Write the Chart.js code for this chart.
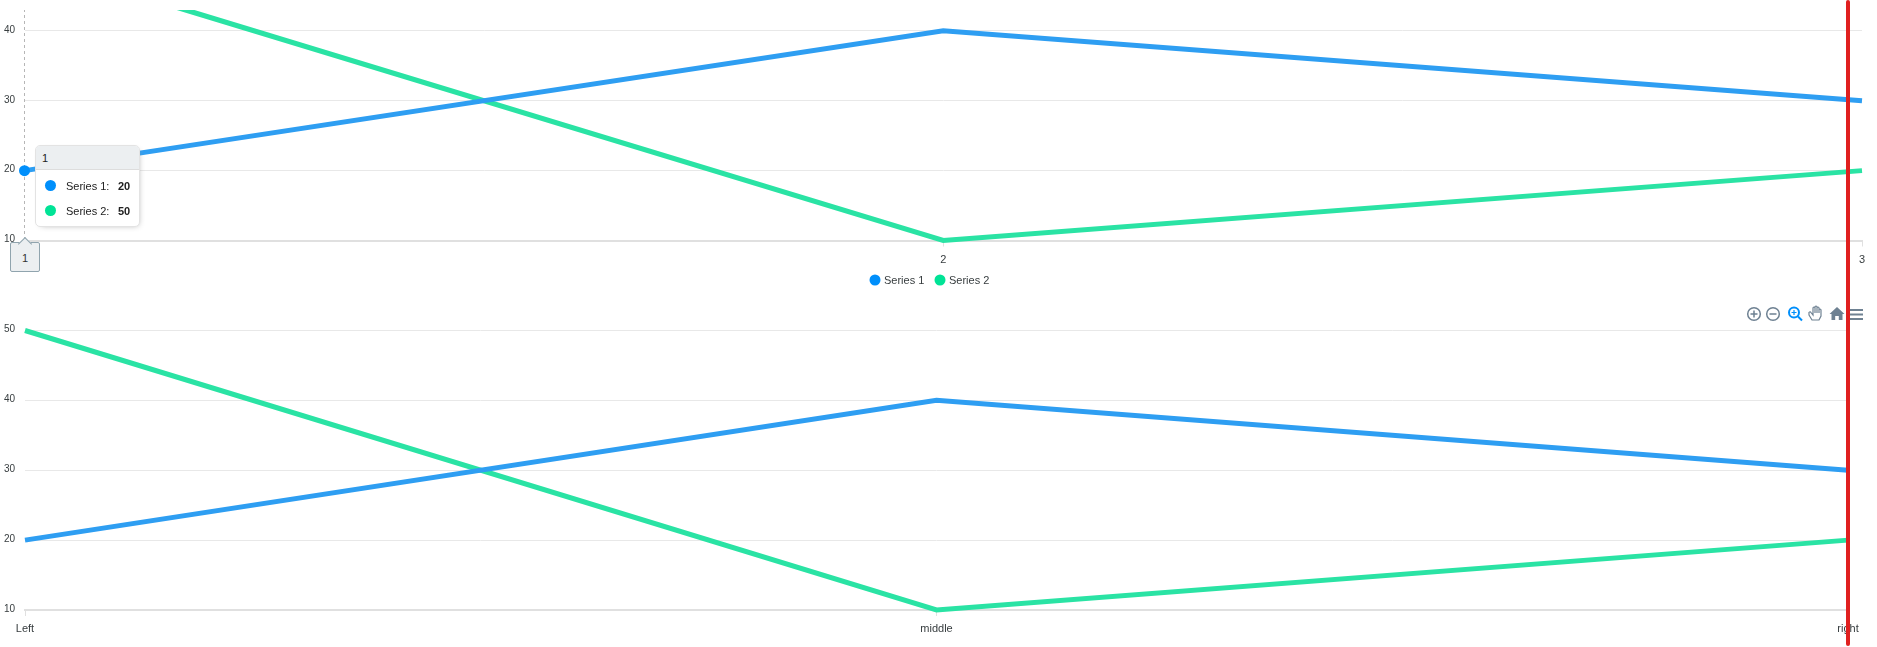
<!DOCTYPE html>
<html><head><meta charset="utf-8">
<script src="https://cdn.jsdelivr.net/npm/chart.js@4"></script>
<style>
html,body{margin:0;padding:0;background:#fff;overflow:hidden;width:1877px;height:647px;font-family:"Liberation Sans",Arial,sans-serif;color:#373d3f}
#clipTop{position:absolute;left:0;top:10px;width:1877px;height:290px;overflow:hidden}
#wrapTop{position:absolute;left:0;top:-110px;width:1877px;height:410px}
#wrapBottom{position:absolute;left:0;top:300px;width:1877px;height:347px}
#tip{position:absolute;left:35px;top:145px;width:105px;height:82px;background:#fff;border:1px solid #e3e3e3;border-radius:5px;box-shadow:2px 2px 6px -4px #999;font-size:11px;color:#222;box-sizing:border-box;overflow:hidden}
#tipT{background:#eceff1;border-bottom:1px solid #ddd;height:23px;line-height:24px;padding-left:6px}
.row{position:absolute;left:9px;height:14px;line-height:14px;white-space:nowrap}
.dot{position:absolute;left:0;top:1px;width:11px;height:11px;border-radius:50%}
.row span.l{position:absolute;left:21px}
.row b{position:absolute;left:73px}
#xtip{position:absolute;left:10px;top:242px;width:30px;height:30px;box-sizing:border-box;background:#eceff1;border:1px solid #90a4ae;border-radius:2px;font-size:11px;text-align:center;line-height:30px;color:#333}
#xarrow{position:absolute;left:20px;top:239px;width:9px;height:9px;background:#eceff1;border-left:1px solid #90a4ae;border-top:1px solid #90a4ae;transform:rotate(45deg)}
#red{position:absolute;left:1846px;top:0;width:4px;height:646px;background:#e0201f;border-radius:2px}
#tools{position:absolute;left:0;top:0}
</style></head><body>
<div id="clipTop"><div id="wrapTop"><canvas id="c1"></canvas></div></div>
<div id="wrapBottom"><canvas id="c2"></canvas></div>
<div id="tip"><div id="tipT"></div><div class="row" id="r0" style="top:33px"></div><div class="row" id="r1" style="top:58px"></div></div>
<div id="xtip"></div><div id="xarrow"></div>
<svg id="tools" width="1877" height="647" style="pointer-events:none" fill="none" stroke="#6e8192" stroke-width="1.5">
<g><circle cx="1754" cy="314" r="6.3"/><path d="M1750.5 314h7M1754 310.5v7"/></g>
<g><circle cx="1773" cy="314" r="6.3"/><path d="M1769.5 314h7"/></g>
<g stroke="#008ffb" stroke-width="2"><circle cx="1794" cy="312.5" r="5"/><path d="M1798 316.5l4 4"/><path d="M1791.5 312.5h5M1794 310v5" stroke-width="1.2"/></g>
<g stroke="#6e8192" stroke-width="1.2"><path d="M1809 315l3 5h7l2-4v-6a1 1 0 0 0-2 0v3-5a1 1 0 0 0-2 0v5-6a1 1 0 0 0-2 0v6-5a1 1 0 0 0-2 0v7l-2-2.5a1 1 0 0 0-2 1z"/></g>
<path d="M1829.500 314l7.500-7 7.500 7h-2v6h-3.700v-4h-3.600v4h-3.700v-6z" fill="#6e8192" stroke="none"/>
<path d="M1850 310h13M1850 314.500h13M1850 319h13" stroke-width="1.800"/>
</svg>
<div id="red"></div>
<script>
const topCategories=['1','2','3'];
const bottomCategories=['Left','middle','right'];
const series1=[20,40,30];
const series2=[50,10,20];
const seriesNames=['Series 1','Series 2'];
const lineColors=['#2e9ef2','#2ae3a4'];
const markerColors=['#008ffb','#00e396'];
const yTicks=[10,20,30,40,50];
const tipIndex=0;

function cfg(labels,o){
 return {type:'line',
  data:{labels,datasets:[0,1].map(i=>({label:seriesNames[i],data:i?series2:series1,borderColor:lineColors[i],backgroundColor:markerColors[i],borderWidth:5,pointRadius:0,pointHoverRadius:i?0:5.5,pointHoverBorderWidth:0,pointHoverBackgroundColor:markerColors[i],tension:0,clip:false}))},
  options:{responsive:false,animation:false,events:[],
   layout:{padding:{left:0,right:o.right,top:o.top,bottom:0}},
   plugins:{tooltip:{enabled:false},legend:{display:false}},
   scales:{
    x:{type:'category',offset:false,afterFit(a){a.height=o.xh},
     grid:{display:true,drawOnChartArea:false,drawTicks:true,tickLength:6,color:'#e0e0e0'},
     border:{color:'#e0e0e0',width:2},
     ticks:{color:'#373d3f',font:{family:'"Liberation Sans"',size:11},maxRotation:0,padding:o.xp,autoSkip:false,
       callback(v,i){return o.hideFirst&&i===0?'':this.getLabelForValue(v)}}},
    y:{min:10,max:50,afterBuildTicks(a){a.ticks=yTicks.map(v=>({value:v}))},
     afterFit(a){a.width=o.yw},
     grid:{color:'#e8e8e8',lineWidth:1,drawTicks:false},
     border:{display:false},
     ticks:{color:'#373d3f',font:{family:'"Liberation Sans"',size:10},padding:o.yw-15,labelOffset:-1}}}
  }};
}
function sized(id,w,h){const c=document.getElementById(id);c.width=w;c.height=h;c.style.width=w+'px';c.style.height=h+'px';c.style.display='block';return c}

const legendPlugin={id:'lg',afterDraw(ch){
  const g=ch.ctx;g.save();g.font='11px "Liberation Sans"';g.textBaseline='middle';g.textAlign='left';
  const y=380,xs=[875,940];
  seriesNames.forEach((n,i)=>{g.fillStyle=markerColors[i];g.beginPath();g.arc(xs[i],y,5.5,0,7);g.fill();g.fillStyle='#373d3f';g.fillText(n,xs[i]+9,y+.5)});
  g.restore();}};
const crosshairPlugin={id:'ch',beforeDatasetsDraw(ch){
  const g=ch.ctx,x=ch.scales.x.getPixelForValue(tipIndex);
  g.save();g.strokeStyle='#b6b6b6';g.lineWidth=1;g.setLineDash([3,3]);g.beginPath();g.moveTo(x,ch.chartArea.top);g.lineTo(x,ch.chartArea.bottom);g.stroke();g.restore();}};
const c1=new Chart(sized('c1',1877,410),Object.assign(cfg(topCategories,{right:15,top:61,xh:69.5,xp:7,yw:24.5,hideFirst:true}),{plugins:[legendPlugin,crosshairPlugin]}));
const c2=new Chart(sized('c2',1877,347),cfg(bottomCategories,{right:29,top:30.5,xh:37,xp:6.5,yw:25,hideFirst:false}));

c1.setActiveElements([{datasetIndex:0,index:tipIndex}]);c1.update();
document.getElementById('tipT').textContent=topCategories[tipIndex];
[series1,series2].forEach((s,i)=>{document.getElementById('r'+i).innerHTML='<i class="dot" style="background:'+markerColors[i]+'"></i><span class="l">'+seriesNames[i]+':</span><b>'+s[tipIndex]+'</b>'});
document.getElementById('xtip').textContent=topCategories[tipIndex];
</script>
</body></html>
